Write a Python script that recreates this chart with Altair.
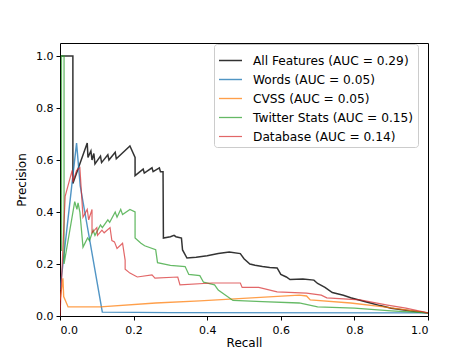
import altair as alt
import pandas as pd

series_names = ["All Features (AUC = 0.29)", "Words (AUC = 0.05)", "CVSS (AUC = 0.05)",
                "Twitter Stats (AUC = 0.15)", "Database (AUC = 0.14)"]
series_colors = ["#000000", "#1f77b4", "#ff7f0e", "#2ca02c", "#d62728"]

all_recall = [0, 0.035, 0.035, 0.074, 0.076, 0.084, 0.087, 0.092, 0.095, 0.11, 0.113, 0.13, 0.133,
              0.15, 0.153, 0.19, 0.204, 0.204, 0.226, 0.229, 0.25, 0.253, 0.27, 0.273, 0.28, 0.281,
              0.30, 0.31, 0.315, 0.33, 0.333, 0.345, 0.37, 0.40, 0.43, 0.46, 0.49, 0.50, 0.516,
              0.53, 0.55, 0.57, 0.59, 0.60, 0.615, 0.625, 0.66, 0.69, 0.70, 0.72, 0.74, 0.77,
              0.79, 0.83, 0.87, 0.90, 0.95, 1.0]
all_precision = [1.0, 1.0, 0.51, 0.665, 0.61, 0.635, 0.60, 0.625, 0.585, 0.615, 0.59, 0.62, 0.60,
                 0.63, 0.605, 0.654, 0.61, 0.54, 0.565, 0.55, 0.57, 0.555, 0.57, 0.555, 0.555, 0.30,
                 0.305, 0.31, 0.305, 0.30, 0.254, 0.223, 0.226, 0.232, 0.24, 0.246, 0.24, 0.22, 0.20,
                 0.195, 0.19, 0.187, 0.185, 0.16, 0.15, 0.14, 0.142, 0.138, 0.125, 0.11, 0.09, 0.08,
                 0.07, 0.055, 0.04, 0.03, 0.02, 0.012]

words_recall = [0, 0.045, 0.055, 0.115, 0.3, 1.0]
words_precision = [0.10, 0.665, 0.50, 0.015, 0.013, 0.012]

cvss_recall = [0, 0.008, 0.01, 0.022, 0.11, 0.26, 0.38, 0.65, 0.67, 0.68, 0.79, 0.88, 1.0]
cvss_precision = [0.06, 0.145, 0.075, 0.035, 0.035, 0.05, 0.058, 0.08, 0.077, 0.062, 0.05, 0.035, 0.012]

tw_recall = [0.004, 0.004, 0.011, 0.011, 0.04, 0.046, 0.049, 0.054, 0.0625, 0.075, 0.08, 0.09, 0.095,
             0.11, 0.115, 0.13, 0.135, 0.15, 0.155, 0.165, 0.17, 0.19, 0.204, 0.204, 0.22, 0.23,
             0.26, 0.265, 0.30, 0.34, 0.35, 0.38, 0.39, 0.42, 0.43, 0.45, 0.47, 0.55, 0.65, 0.70,
             0.80, 0.90, 1.0]
tw_precision = [0.25, 1.0, 1.0, 0.20, 0.44, 0.41, 0.435, 0.40, 0.265, 0.30, 0.29, 0.33, 0.31,
                0.35, 0.34, 0.37, 0.36, 0.40, 0.38, 0.41, 0.39, 0.41, 0.40, 0.30, 0.28, 0.27,
                0.255, 0.205, 0.195, 0.19, 0.16, 0.155, 0.13, 0.12, 0.10, 0.08, 0.06, 0.055, 0.05,
                0.035, 0.03, 0.02, 0.012]

db_recall = [0, 0.014, 0.033, 0.035, 0.045, 0.054, 0.0625, 0.074, 0.078, 0.087, 0.087, 0.1, 0.102,
             0.114, 0.12, 0.136, 0.141, 0.148, 0.155, 0.17, 0.177, 0.177, 0.19, 0.21, 0.25, 0.258,
             0.32, 0.326, 0.413, 0.49, 0.495, 0.54, 0.59, 0.67, 0.71, 0.725, 0.815, 0.89, 0.94, 1.0]
db_precision = [0.0, 0.46, 0.56, 0.515, 0.56, 0.57, 0.38, 0.41, 0.37, 0.41, 0.32, 0.34, 0.31,
                0.33, 0.32, 0.34, 0.29, 0.285, 0.26, 0.28, 0.215, 0.18, 0.165, 0.15, 0.158, 0.146,
                0.15, 0.12, 0.127, 0.127, 0.11, 0.11, 0.093, 0.088, 0.08, 0.07, 0.062, 0.042, 0.03, 0.012]

rows = []
for name, rec, prec in zip(series_names,
                           [all_recall, words_recall, cvss_recall, tw_recall, db_recall],
                           [all_precision, words_precision, cvss_precision, tw_precision, db_precision]):
    for i, (r, p) in enumerate(zip(rec, prec)):
        rows.append({"series": name, "recall": r, "precision": p, "idx": i})
df = pd.DataFrame(rows)

font = "DejaVu Sans"

chart = alt.Chart(df).mark_line(strokeJoin="miter", clip=True).encode(
    x=alt.X("recall:Q", title="Recall",
            scale=alt.Scale(domain=[0, 1], nice=False, zero=False),
            axis=alt.Axis(values=[0, 0.2, 0.4, 0.6, 0.8, 1.0], format=".1f")),
    y=alt.Y("precision:Q", title="Precision",
            scale=alt.Scale(domain=[0, 1.05], nice=False, zero=False),
            axis=alt.Axis(values=[0, 0.2, 0.4, 0.6, 0.8, 1.0], format=".1f")),
    color=alt.Color("series:N", title=None,
                    scale=alt.Scale(domain=series_names, range=series_colors),
                    legend=alt.Legend(orient="none", legendX=154, legendY=1)),
    opacity=alt.Opacity("series:N", title=None,
                        scale=alt.Scale(domain=series_names, range=[0.8, 0.7, 0.7, 0.7, 0.7])),
    strokeWidth=alt.StrokeWidth("series:N", title=None,
                                scale=alt.Scale(domain=series_names, range=[1.5, 1.2, 1.2, 1.2, 1.2])),
    order="idx:Q",
    detail="series:N",
).properties(
    width=368, height=273,
    autosize=alt.AutoSizeParams(type="none"),
    padding={"left": 60, "top": 43, "right": 46, "bottom": 39},
).configure_view(
    stroke="#000000", strokeWidth=1
).configure_axis(
    grid=False, domain=False, tickColor="#000000", tickSize=4, tickWidth=1,
    labelColor="#000000", labelFont=font, labelFontSize=11, labelPadding=3,
    titleColor="#000000", titleFont=font, titleFontSize=12, titleFontWeight="normal",
).configure_axisX(
    titlePadding=2, labelPadding=4
).configure_axisY(
    titlePadding=7
).configure_legend(
    labelFont=font, labelFontSize=12.2, labelColor="#000000",
    symbolType="stroke", symbolSize=529, symbolStrokeWidth=1.2,
    padding=4, rowPadding=-2, labelOffset=10,
    fillColor="rgba(255,255,255,0.8)", strokeColor="#cccccc", cornerRadius=3,
    labelLimit=300,
)

chart.save("out.html", embed_options={"renderer": "svg", "actions": False})
